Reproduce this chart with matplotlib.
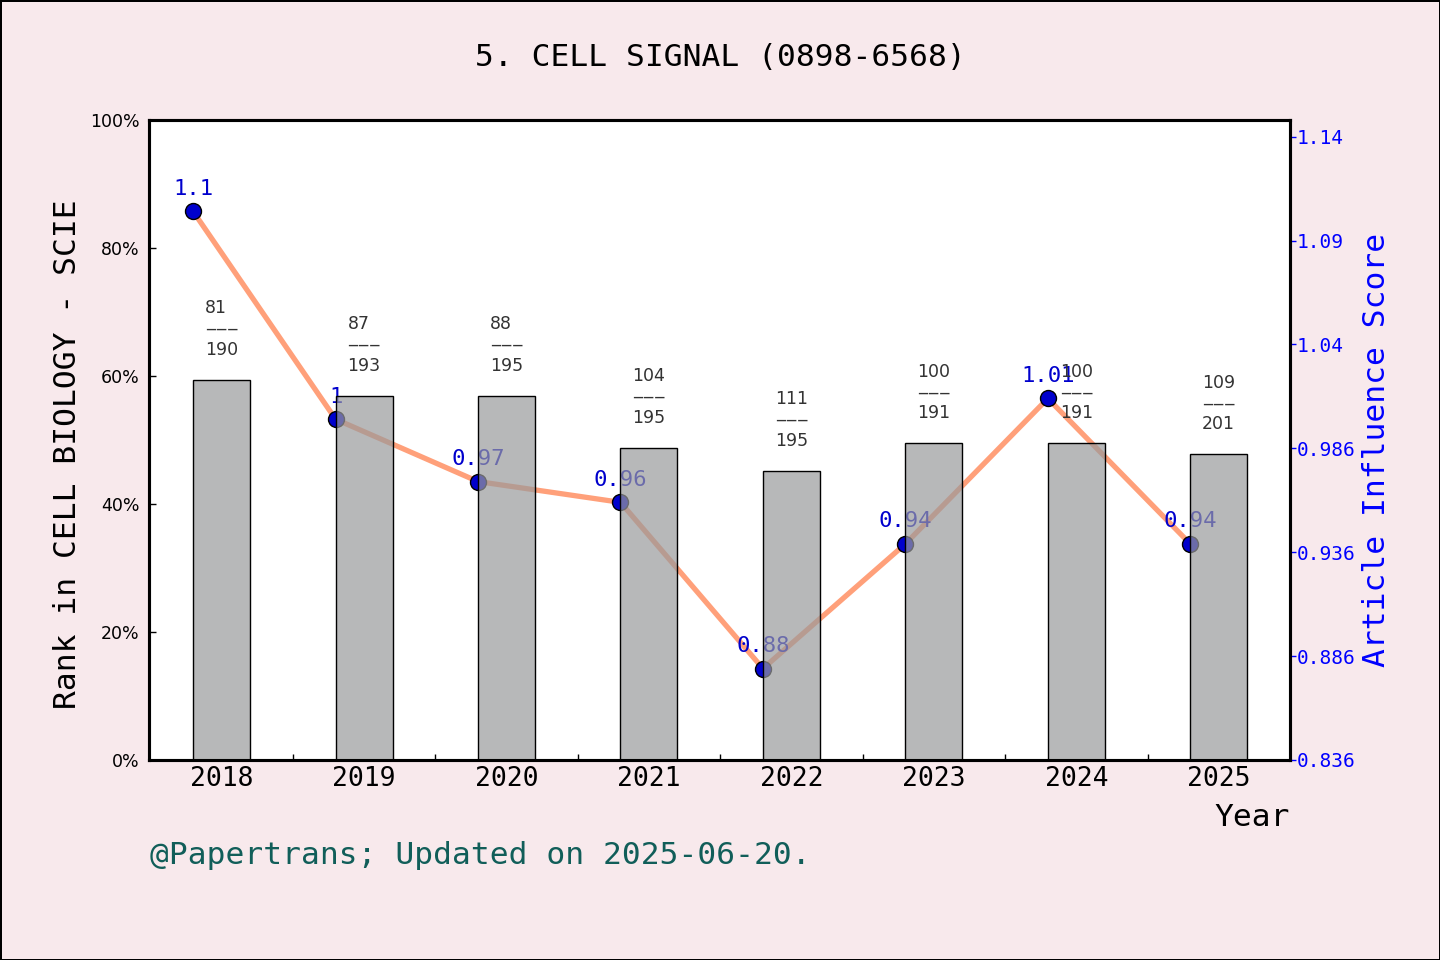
import numpy as np
import matplotlib
matplotlib.use("Agg")
import matplotlib.pyplot as plt
from matplotlib.ticker import FuncFormatter, FixedLocator

years = ["2018", "2019", "2020", "2021", "2022", "2023", "2024", "2025"]
rank_pct = [59.4, 56.9, 56.9, 48.8, 45.2, 49.5, 49.5, 47.8]
ranks = [81, 87, 88, 104, 111, 100, 100, 109]
totals = [190, 193, 195, 195, 195, 191, 191, 201]
ais = [1.1, 1, 0.97, 0.96, 0.88, 0.94, 1.01, 0.94]

MONO = "DejaVu Sans Mono"
BG = "#f8e9ec"

fig = plt.figure(figsize=(14.4, 9.6), dpi=100, facecolor=BG,
                 edgecolor="black", linewidth=1)
ax1 = fig.add_axes([149/1440, 1-760/960, (1290-149)/1440, (760-120)/960])
ax2 = ax1.twinx()
ax1.set_zorder(ax2.get_zorder() + 1)
ax1.patch.set_visible(False)
ax2.patch.set_visible(True)
ax2.patch.set_facecolor("white")

x = np.arange(len(years))
w = 0.4

# line (AIS) on the lower axes
ax2.plot(x, ais, color="#ffa07a", lw=3.8, zorder=2)
ax2.plot(x, ais, "o", color="#0000cd", mec="black", mew=1, ms=11.5, zorder=3)
for xi, v in zip(x, ais):
    ax2.annotate(f"{v:g}", (xi, v), xytext=(0, 9), textcoords="offset points",
                 ha="center", va="bottom", color="#0000cd", fontsize=16,
                 family=MONO)
rng = max(ais) - min(ais)
lo, hi = min(ais) - 0.2 * rng, max(ais) + 0.2 * rng
ax2.set_ylim(lo, hi)
ax2.yaxis.set_major_locator(FixedLocator(np.arange(lo, hi, 0.05)))
ax2.yaxis.set_major_formatter(FuncFormatter(lambda v, p: f"{v:.3g}"))
ax2.tick_params(axis="y", colors="#0000ff", labelsize=14, direction="out",
                length=4, width=1, pad=1)
for lab in ax2.get_yticklabels():
    lab.set_family(MONO)
ax2.set_ylabel("Article Influence Score", color="#0000ff", fontsize=22.5,
               family=MONO)
ax2.yaxis.set_label_coords((1362-149)/1141, (760-450)/640)

# bars on the upper axes, semi-transparent fill, solid edge
ax1.bar(x, rank_pct, width=w, align="edge", facecolor=(0.6, 0.604, 0.612, 0.7),
        edgecolor="black", linewidth=1, zorder=2)
for xi, h, r, t in zip(x, rank_pct, ranks, totals):
    ax1.annotate(f"{r}\n\u2012\u2012\u2012\n{t}", (xi + w/2, h), xytext=(0, 15),
                 textcoords="offset points", ha="center", va="bottom",
                 multialignment="left", fontsize=12.5, color="#333333",
                 linespacing=1.2)
ax1.set_ylim(0, 100)
ax1.set_xlim(-0.31, 7.7)
ax1.set_yticks([0, 20, 40, 60, 80, 100])
ax1.yaxis.set_major_formatter(FuncFormatter(lambda v, p: f"{v:.0f}%"))
ax1.tick_params(axis="y", labelsize=12.5, direction="in", length=5, width=1, pad=7)
ax1.set_xticks(x + w/2)
ax1.set_xticklabels(years, family=MONO, fontsize=19)
ax1.tick_params(axis="x", length=0, pad=4)
ax1.set_xticks(x[:-1] + 0.7, minor=True)
ax1.tick_params(axis="x", which="minor", direction="in", length=4, width=1)
ax1.set_ylabel("Rank in CELL BIOLOGY - SCIE", fontsize=22.5, family=MONO)
ax1.yaxis.set_label_coords((82-149)/1141, (760-454)/640)

for ax in (ax1, ax2):
    for s in ax.spines.values():
        s.set_linewidth(2.2)

fig.text(0.5, 1-57/960, "5. CELL SIGNAL (0898-6568)", ha="center", va="center",
         fontsize=22.5, family=MONO)
fig.text(1290/1440, 1-817/960, "Year", ha="right", va="center", fontsize=22.5,
         family=MONO)
fig.text(150/1440, 1-855/960, "@Papertrans; Updated on 2025-06-20.",
         ha="left", va="center", fontsize=22.5, family=MONO, color="#115e59")

fig.savefig("out.png", dpi=100, facecolor=BG, edgecolor="black")
